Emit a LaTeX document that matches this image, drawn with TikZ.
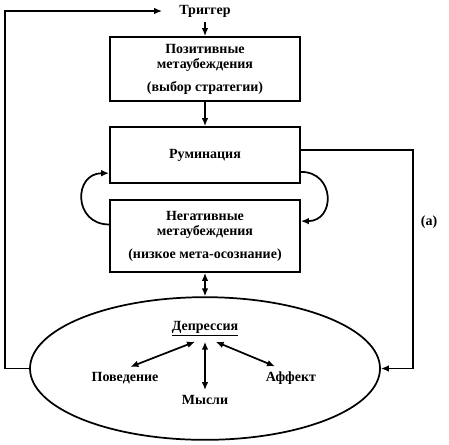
\documentclass[tikz,border=0pt]{standalone}
\usepackage{fontspec}
\setmainfont{Liberation Serif}
\usepackage{tikz}
\usetikzlibrary{arrows.meta,positioning,shapes.geometric}

\begin{document}
\begin{tikzpicture}[x=0.75pt, y=-0.75pt, line width=1.3pt,
    font=\fontsize{10.5}{11.25}\selectfont\bfseries,
    >={Latex[length=6pt,width=5pt]},
    box/.style={draw, minimum width=142.5pt, align=center, inner sep=2pt}]
    \useasboundingbox (0,0) rectangle (449,444);

    % Trigger and the three boxes
    \node (trig) at (205,11) {Триггер};
    \node[box, minimum height=48pt] (pos) at (205,69) {Позитивные\\метаубеждения\\[6pt](выбор стратегии)};
    \node[box, minimum height=42pt] (rum) at (205,155) {Руминация};
    \node[box, minimum height=54pt] (neg) at (205,236) {Негативные\\метаубеждения\\[6pt](низкое мета-осознание)};
    \node (a) at (429,222) {(a)};

    % Depression ellipse
    \node[draw, ellipse, minimum width=262.5pt, minimum height=107pt] (dep) at (205,368.5) {};
    \node (depr) at (205,329) {\underline{Депрессия}};
    \node (beh) at (125,378) {Поведение};
    \node (thk) at (205,400) {Мысли};
    \node (aff) at (291,378) {Аффект};

    % Main chain
    \draw[->] (trig) -- (pos);
    \draw[->] (pos) -- (rum);
    \draw[<->] (neg) -- (dep);

    % Loops between rumination and negative beliefs
    \draw[->] ([yshift=-19pt]neg.north west) to[out=180, in=180, looseness=1.8] ([yshift=8pt]rum.south west);
    \draw[->] ([yshift=9pt]rum.south east) to[out=0, in=0, looseness=1.8] ([yshift=-16.5pt]neg.north east);

    % Outer feedback lines
    \coordinate (lc) at (5,11);
    \coordinate (rc) at (413,250);
    \draw[->, shorten >=9pt] (dep.west) -| (lc) -- (trig.west);
    \draw[->] ([yshift=4pt]rum.east) -| (rc) |- (dep.east);

    % Inside the ellipse
    \draw[<->] ([xshift=-7.5pt]depr.south) -- ([xshift=4pt]beh.north);
    \draw[<->] (depr.south) -- (thk.north);
    \draw[<->] ([xshift=8pt]depr.south) -- ([xshift=-12pt]aff.north);
\end{tikzpicture}
\end{document}
